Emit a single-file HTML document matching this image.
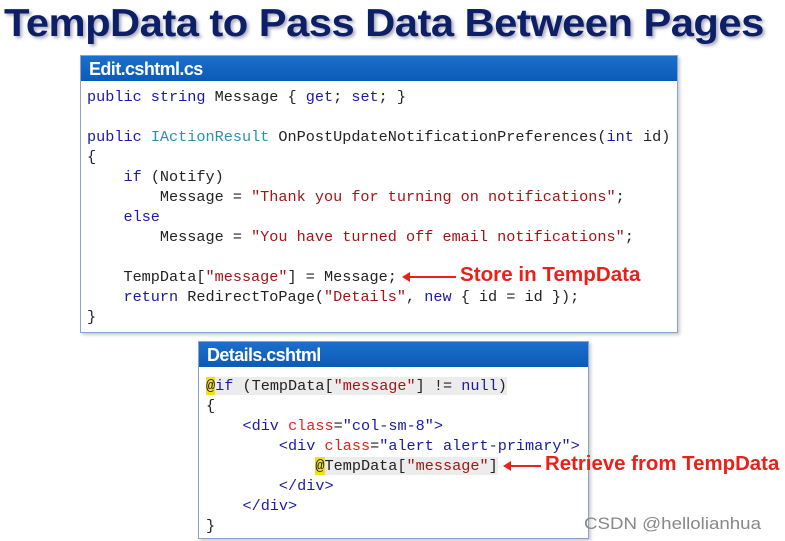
<!DOCTYPE html>
<html><head><meta charset="utf-8"><style>
*{margin:0;padding:0;box-sizing:border-box}
body{width:785px;height:541px;background:#fff;position:relative;overflow:hidden;font-family:"Liberation Sans",sans-serif}
.title{position:absolute;left:4px;top:2px;font-size:39px;font-weight:bold;color:#0d1f66;letter-spacing:-0.5px;text-shadow:2px 2px 3px #aab;white-space:nowrap;transform:scaleX(1.07);transform-origin:left}
.box{position:absolute;border:1px solid #8aa4c8;background:#fff;box-shadow:2px 2px 3px #ccc}
.hdr{height:25px;background:linear-gradient(#1c6fcc,#0b5bb8);color:#fff;font-weight:bold;font-size:18px;padding:3px 0 0 8px;letter-spacing:-0.6px}
.code{position:absolute;font-family:"Liberation Mono",monospace;font-size:15.2px;line-height:20px;white-space:pre;color:#222}
.k{color:#1a1aa6}.s{color:#a31515}.t{color:#2b91af}.r{color:#e8221a}.hl{background:#ececec}.y{background:#f0e020}
.lbl{position:absolute;color:#e8221a;font-weight:bold;font-size:20px;white-space:nowrap;transform:scaleX(1.03);transform-origin:left}
.arr{position:absolute;height:2px;background:#e8221a}
.arr:before{content:"";position:absolute;left:-2px;top:-4px;border-right:8px solid #e8221a;border-top:5px solid transparent;border-bottom:5px solid transparent}
.wm{position:absolute;left:584px;top:514px;font-size:17px;color:#888;white-space:nowrap;transform:scaleX(1.1);transform-origin:left}
</style></head><body>
<div class="title">TempData to Pass Data Between Pages</div>
<div class="box" style="left:80px;top:55px;width:598px;height:278px">
<div class="hdr">Edit.cshtml.cs</div>
</div>
<div class="code" style="left:87px;top:87px"><span class="k">public string</span> Message { <span class="k">get</span>; <span class="k">set</span>; }

<span class="k">public</span> <span class="t">IActionResult</span> OnPostUpdateNotificationPreferences(<span class="k">int</span> id)
{
    <span class="k">if</span> (Notify)
        Message = <span class="s">"Thank you for turning on notifications"</span>;
    <span class="k">else</span>
        Message = <span class="s">"You have turned off email notifications"</span>;

    TempData[<span class="s">"message"</span>] = Message;
    <span class="k">return</span> RedirectToPage(<span class="s">"Details"</span>, <span class="k">new</span> { id = id });
}</div>
<div class="arr" style="left:404px;top:276px;width:52px"></div>
<div class="lbl" style="left:460px;top:264px">Store in TempData</div>

<div class="box" style="left:198px;top:341px;width:391px;height:198px">
<div class="hdr">Details.cshtml</div>
</div>
<div class="code" style="left:206px;top:376px"><span class="hl"><span class="y">@</span><span class="k">if</span> (TempData[<span class="s">"message"</span>] != <span class="k">null</span>)</span>
{
    <span class="k">&lt;div</span> <span class="r">class</span>=<span class="k">"col-sm-8"&gt;</span>
        <span class="k">&lt;div</span> <span class="r">class</span>=<span class="k">"alert alert-primary"&gt;</span>
            <span class="hl"><span class="y">@</span>TempData[<span class="s">"message"</span>]</span>
        <span class="k">&lt;/div&gt;</span>
    <span class="k">&lt;/div&gt;</span>
}</div>
<div class="arr" style="left:505px;top:465px;width:36px"></div>
<div class="lbl" style="left:545px;top:453px;transform:scaleX(1.02)">Retrieve from TempData</div>
<div class="wm">CSDN @hellolianhua</div>
</body></html>
